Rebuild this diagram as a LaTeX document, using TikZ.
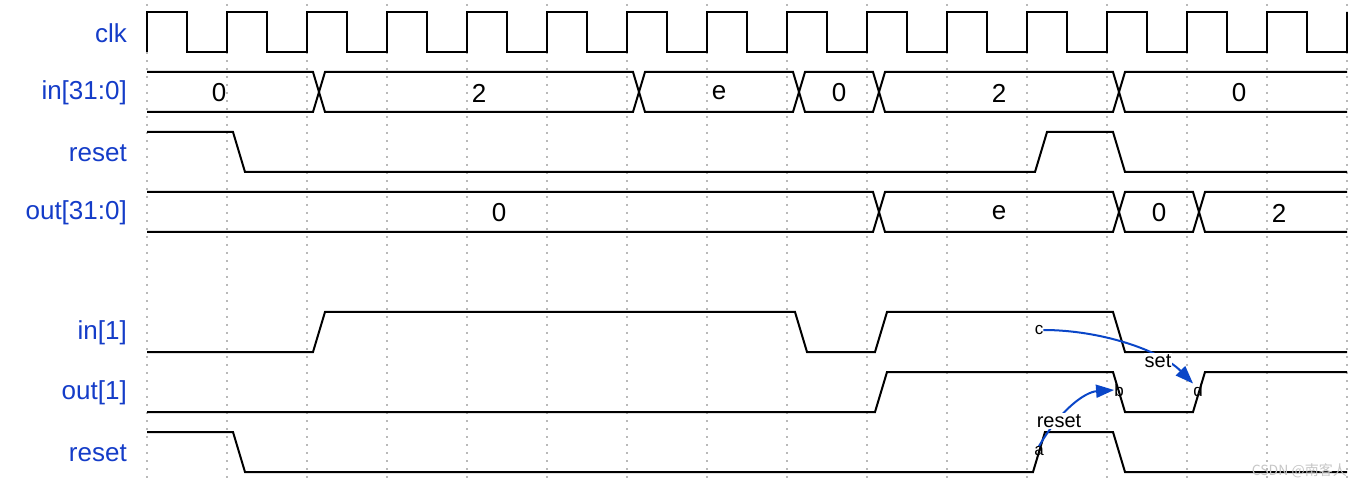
\documentclass[tikz,border=0pt]{standalone}
\usepackage{fontspec}
\setmainfont{Liberation Sans}
\newfontfamily\cjk{Noto Sans CJK SC}
\usetikzlibrary{arrows.meta}
\definecolor{lab}{RGB}{20,60,200}
\definecolor{anncol}{RGB}{10,70,200}
\begin{document}
\begin{tikzpicture}[x=1pt,y=-1pt,
  wave/.style={line width=2pt,black,line join=miter},
  grid/.style={dash pattern=on 2pt off 6pt,gray!55,line width=1.6pt},
  lbl/.style={anchor=east,text=lab,font=\fontsize{26}{26}\selectfont,inner sep=0},
  val/.style={font=\fontsize{26}{26}\selectfont,inner sep=0},
  small/.style={font=\fontsize{17}{17}\selectfont,inner sep=0},
  annarrow/.style={anncol,line width=2pt,-{Triangle[length=18pt,width=13pt]}}]
\useasboundingbox (0,0) rectangle (1361,489);
\foreach \x in {147,227,...,1347} \draw[grid] (\x,4) -- (\x,480);
% labels
\node[lbl] (l1) at (127,33) {clk};
\node[lbl] (l2) at (127,93) {in[31:0]};
\node[lbl] (l3) at (127,153) {reset};
\node[lbl] (l4) at (127,213) {out[31:0]};
\node[lbl] (l5) at (127,333) {in[1]};
\node[lbl] (l6) at (127,393) {out[1]};
\node[lbl] (l7) at (127,453) {reset};
% clk
\draw[wave] (147,52) -- (147,12) \foreach \x in {147,227,...,1267}{ -- (\x+40,12) -- (\x+40,52) -- (\x+80,52) -- (\x+80,12)} -- (1347,12) -- (1347,52);
% bus in
\draw[wave] (147,72) -- (313,72) -- (325,112) -- (633,112) -- (645,72) -- (793,72) -- (805,112) -- (873,112) -- (885,72) -- (1113,72) -- (1125,112) -- (1347,112);
\draw[wave] (147,112) -- (313,112) -- (325,72) -- (633,72) -- (645,112) -- (793,112) -- (805,72) -- (873,72) -- (885,112) -- (1113,112) -- (1125,72) -- (1347,72);
\node[val] (v1) at (219,93) {0};
\node[val] (v2) at (479,93) {2};
\node[val] (v3) at (719,93) {e};
\node[val] (v4) at (839,93) {0};
\node[val] (v5) at (999,93) {2};
\node[val] (v6) at (1239,93) {0};
% reset
\draw[wave] (147,132) -- (233,132) -- (245,172) -- (1035,172) -- (1047,132) -- (1113,132) -- (1125,172) -- (1347,172);
% bus out
\draw[wave] (147,192) -- (873,192) -- (885,232) -- (1113,232) -- (1125,192) -- (1193,192) -- (1205,232) -- (1347,232);
\draw[wave] (147,232) -- (873,232) -- (885,192) -- (1113,192) -- (1125,232) -- (1193,232) -- (1205,192) -- (1347,192);
\node[val] (w1) at (499,213) {0};
\node[val] (w2) at (999,213) {e};
\node[val] (w3) at (1159,213) {0};
\node[val] (w4) at (1279,213) {2};
% in[1]
\draw[wave] (147,352) -- (313,352) -- (325,312) -- (795,312) -- (807,352) -- (875,352) -- (887,312) -- (1113,312) -- (1125,352) -- (1347,352);
% out[1]
\draw[wave] (147,412) -- (875,412) -- (887,372) -- (1113,372) -- (1125,412) -- (1193,412) -- (1205,372) -- (1347,372);
% reset
\draw[wave] (147,432) -- (233,432) -- (245,472) -- (1033,472) -- (1045,432) -- (1113,432) -- (1125,472) -- (1347,472);
% annotations
\node[small] (a) at (1039,451) {a};
\node[small] (b) at (1119,390) {b};
\node[small] (c) at (1039,330) {c};
\node[small] (d) at (1198,390) {d};
\draw[annarrow] (a.north) .. controls (1060,410) and (1085,392) .. (b.west);
\draw[annarrow] (c.east) .. controls (1100,330) and (1160,350) .. (d.north west);
\node[val,font=\fontsize{20}{20}\selectfont,fill=white,inner sep=1pt] (rs) at (1059,421) {reset};
\node[val,font=\fontsize{20}{20}\selectfont,fill=white,inner sep=1pt] (st) at (1158,361) {set};
\node[font=\cjk\fontsize{14}{14}\selectfont,text=gray!45,anchor=east,inner sep=0] (wm) at (1347,471) {CSDN @南客人};
\end{tikzpicture}
\end{document}
